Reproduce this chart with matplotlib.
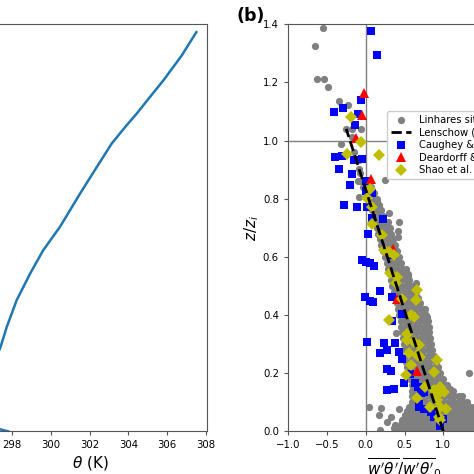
import matplotlib
matplotlib.use("Agg")
import matplotlib.pyplot as plt

# ---- panel (a): potential temperature profile
theta = [296.9, 296.7, 296.6, 296.65, 296.8, 297.05, 297.38, 297.73, 298.24, 298.93,
         299.61, 300.47, 301.51, 302.37, 303.14, 303.91, 304.43, 305.11, 305.80,
         306.75, 307.50]
z_theta = [20, 50, 100, 150, 200, 250, 284, 359, 451, 542,
           623, 703, 818, 909, 990, 1053, 1093, 1150, 1207,
           1293, 1373]
theta_sfc = [297.8, 297.6, 297.38, 297.1, 296.9]
z_sfc = [0, 3, 7, 12, 20]
theta_ticks = [298, 300, 302, 304, 306, 308]

# ---- panel (b): heat flux profiles
gray_out_x = [-0.545, -0.648, -0.626, -0.54, -0.48, -0.347, -0.227, -0.253, -0.18, -0.056,
              -0.313, -0.176, -0.154, -0.09, -0.085, -0.077, -0.1, 0.25, -0.09, 0.15,
              0.30, 0.43, 0.42, 0.42, 0.65, 0.54, 0.79, 0.39, 1.33, 1.09,
              0.045, 0.20, 0.17, 0.32, 0.28, 0.19, 0.43, 0.38, 0.36]
gray_out_z = [1.387, 1.327, 1.211, 1.211, 1.186, 1.136, 1.122, 1.039, 1.039, 1.039,
              0.988, 1.011, 0.962, 0.933, 0.902, 0.89, 0.862, 0.863, 0.805, 0.79,
              0.752, 0.72, 0.688, 0.667, 0.511, 0.533, 0.393, 0.338, 0.202, 0.144,
              0.085, 0.08, 0.056, 0.048, 0.032, 0.006, 0.075, 0.02, 0.01]

gray_band = [
    (0.86, [-0.06, 0.00, 0.04]),
    (0.84, [-0.03, 0.03, 0.07]),
    (0.82, [0.00, 0.06, 0.11]),
    (0.80, [0.03, 0.09, 0.15]),
    (0.78, [0.06, 0.12, 0.17]),
    (0.76, [0.08, 0.14, 0.20]),
    (0.74, [0.10, 0.16, 0.22]),
    (0.72, [0.12, 0.18, 0.24, 0.29]),
    (0.70, [0.14, 0.20, 0.26, 0.31]),
    (0.68, [0.16, 0.22, 0.28, 0.33]),
    (0.66, [0.18, 0.24, 0.30, 0.35]),
    (0.64, [0.20, 0.26, 0.32, 0.38]),
    (0.62, [0.22, 0.28, 0.34, 0.40]),
    (0.60, [0.25, 0.31, 0.37, 0.43]),
    (0.58, [0.27, 0.33, 0.39, 0.45]),
    (0.56, [0.29, 0.35, 0.41, 0.47, 0.52]),
    (0.54, [0.31, 0.37, 0.43, 0.49, 0.55]),
    (0.52, [0.32, 0.38, 0.44, 0.50, 0.56]),
    (0.50, [0.34, 0.40, 0.46, 0.52, 0.58, 0.62]),
    (0.48, [0.36, 0.42, 0.48, 0.54, 0.60, 0.65]),
    (0.46, [0.38, 0.44, 0.50, 0.56, 0.62, 0.68]),
    (0.44, [0.40, 0.46, 0.52, 0.58, 0.64, 0.70]),
    (0.42, [0.42, 0.48, 0.54, 0.60, 0.66, 0.72, 0.76]),
    (0.40, [0.43, 0.49, 0.55, 0.61, 0.67, 0.73, 0.78]),
    (0.38, [0.45, 0.51, 0.57, 0.63, 0.69, 0.75, 0.80]),
    (0.36, [0.46, 0.52, 0.58, 0.64, 0.70, 0.76, 0.81]),
    (0.34, [0.47, 0.53, 0.59, 0.65, 0.71, 0.77, 0.82]),
    (0.32, [0.48, 0.54, 0.60, 0.66, 0.72, 0.78, 0.83]),
    (0.30, [0.49, 0.55, 0.61, 0.67, 0.73, 0.79, 0.84]),
    (0.28, [0.50, 0.56, 0.62, 0.68, 0.74, 0.80, 0.86]),
    (0.26, [0.51, 0.57, 0.63, 0.69, 0.75, 0.81, 0.88]),
    (0.24, [0.52, 0.58, 0.64, 0.70, 0.76, 0.82, 0.90]),
    (0.22, [0.53, 0.59, 0.65, 0.71, 0.77, 0.83, 0.89, 0.93]),
    (0.20, [0.55, 0.61, 0.67, 0.73, 0.79, 0.85, 0.91, 0.96]),
    (0.18, [0.57, 0.63, 0.69, 0.75, 0.81, 0.87, 0.93, 0.99]),
    (0.16, [0.59, 0.65, 0.71, 0.77, 0.83, 0.89, 0.95, 1.01, 1.05]),
    (0.14, [0.60, 0.66, 0.72, 0.78, 0.84, 0.90, 0.96, 1.02, 1.08, 1.12]),
    (0.12, [0.60, 0.66, 0.72, 0.78, 0.84, 0.90, 0.96, 1.02, 1.08, 1.14, 1.20, 1.24]),
    (0.10, [0.59, 0.65, 0.71, 0.77, 0.83, 0.89, 0.95, 1.01, 1.07, 1.13, 1.19, 1.25, 1.31]),
    (0.085, [0.56, 0.62, 0.68, 0.74, 0.80, 0.86, 0.92, 0.98, 1.04, 1.10, 1.16, 1.22, 1.28,
             1.34, 1.40]),
    (0.07, [0.53, 0.59, 0.65, 0.71, 0.77, 0.83, 0.89, 0.95, 1.01, 1.07, 1.13, 1.19, 1.25,
            1.31, 1.37, 1.43]),
    (0.055, [0.50, 0.56, 0.62, 0.68, 0.74, 0.80, 0.86, 0.92, 0.98, 1.04, 1.10, 1.16, 1.22,
             1.28, 1.34, 1.40, 1.46]),
    (0.04, [0.47, 0.53, 0.59, 0.65, 0.71, 0.77, 0.83, 0.89, 0.95, 1.01, 1.07, 1.13, 1.19,
            1.25, 1.31, 1.37, 1.43]),
    (0.025, [0.45, 0.51, 0.57, 0.63, 0.69, 0.75, 0.81, 0.87, 0.93, 0.99, 1.05, 1.11, 1.17,
             1.23, 1.29, 1.35, 1.41, 1.47]),
    (0.01, [0.42, 0.48, 0.54, 0.60, 0.66, 0.72, 0.78, 0.84, 0.90, 0.96, 1.02, 1.08, 1.14,
            1.20, 1.26, 1.32, 1.38, 1.44]),
]

lenschow_x = [1.0, -0.25]
lenschow_z = [0.0, 1.04]

caughey_x = [0.069, 0.142, -0.062, -0.292, -0.412, -0.097, -0.133, -0.390, -0.300, -0.154,
             -0.047, -0.339, -0.176, -0.197, 0.009, 0.000, 0.082, -0.283, -0.112, 0.017,
             0.082, 0.223, 0.030, -0.050, 0.000, 0.051, 0.105, 0.347, 0.189, 0.339,
             -0.004, 0.050, 0.100, 0.468, 0.339, 0.015, 0.232, 0.373, 0.180, 0.275,
             0.427, 0.470, 0.275, 0.324, 0.565, 0.496, 0.640, 0.680, 0.710, 0.751,
             0.280, 0.363, 0.690, 0.690, 0.751, 0.837, 0.876, 1.000, 0.961]
caughey_z = [1.378, 1.296, 1.139, 1.111, 1.100, 1.090, 1.054, 0.945, 0.947, 0.933,
             0.935, 0.901, 0.885, 0.848, 0.862, 0.828, 0.819, 0.778, 0.773, 0.773,
             0.733, 0.729, 0.678, 0.589, 0.584, 0.578, 0.570, 0.605, 0.484, 0.461,
             0.461, 0.449, 0.444, 0.403, 0.381, 0.308, 0.304, 0.303, 0.268, 0.278,
             0.273, 0.250, 0.213, 0.207, 0.196, 0.166, 0.167, 0.152, 0.133, 0.135,
             0.143, 0.145, 0.095, 0.084, 0.078, 0.065, 0.050, 0.044, 0.018]

deardorff_x = [-0.017, -0.046, -0.120, 0.069, 0.352, 0.399, 0.665]
deardorff_z = [1.163, 1.089, 1.008, 0.867, 0.628, 0.454, 0.206]

shao_x = [-0.189, -0.056, -0.240, 0.176, 0.051, 0.017, 0.082, 0.082, 0.210, 0.236,
          0.300, 0.365, 0.309, 0.408, 0.395, 0.665, 0.652, 0.472, 0.297, 0.579,
          0.622, 0.536, 0.532, 0.622, 0.686, 0.554, 0.665, 0.704, 0.918, 0.579,
          0.876, 0.515, 0.768, 0.961, 1.008, 0.918, 0.661, 0.833, 0.961, 0.922,
          1.030, 0.940, 0.961, 0.880]
shao_z = [1.080, 0.996, 0.954, 0.950, 0.832, 0.801, 0.773, 0.713, 0.675, 0.623,
          0.617, 0.605, 0.545, 0.531, 0.511, 0.487, 0.453, 0.456, 0.384, 0.399,
          0.393, 0.336, 0.314, 0.307, 0.296, 0.270, 0.261, 0.257, 0.245, 0.227,
          0.205, 0.195, 0.154, 0.154, 0.135, 0.125, 0.114, 0.085, 0.085, 0.107,
          0.078, 0.050, 0.039, 0.141]

flux_ticks = [-1.0, -0.5, 0.0, 0.5, 1.0, 1.5, 2.0]
zi_ticks = [0.0, 0.2, 0.4, 0.6, 0.8, 1.0, 1.2, 1.4]

gray_x = list(gray_out_x)
gray_z = list(gray_out_z)
for zr, xs in gray_band:
    gray_x += xs
    gray_z += [zr] * len(xs)

fs_tick = 7.3
spine_c = "#555555"

fig = plt.figure(figsize=(4.74, 4.74), dpi=100)

# left panel, mostly outside the crop (its y axis is off the picture)
ax1 = fig.add_axes([-0.0549, 0.0901, 0.4916, 0.8586])
ax1.plot(theta_sfc + theta, z_sfc + z_theta, color="#1f77b4", lw=1.8)
ax1.set_xlim(296.04, 308.05)
ax1.set_ylim(0, 1400)
ax1.set_xticks(theta_ticks)
ax1.set_yticks([])
ax1.set_xlabel(r"$\theta$ (K)", fontsize=11, labelpad=3)
ax1.tick_params(labelsize=fs_tick, color=spine_c, length=3)
for s in ax1.spines.values():
    s.set_color(spine_c)

# right panel (b)
ax2 = fig.add_axes([0.6076, 0.0901, 0.4916, 0.8586])
ax2.axhline(1.0, color="#808080", lw=1.0, zorder=0)
ax2.axvline(0.0, color="#808080", lw=1.0, zorder=0)
ax2.plot(gray_x, gray_z, "o", color="gray", ms=5.2, mew=0, zorder=1,
         label="Linhares site")
ax2.plot(lenschow_x, lenschow_z, "--", color="black", lw=2, zorder=5,
         label="Lenschow (1974)")
ax2.plot(caughey_x, caughey_z, "s", color="blue", ms=5.6, mew=0, zorder=2,
         label="Caughey & Palmer (1979)")
ax2.plot(deardorff_x, deardorff_z, "^", color="red", ms=7, mew=0, zorder=3,
         label="Deardorff & Willis (1985)")
ax2.plot(shao_x, shao_z, "D", color="y", ms=6.3, mew=0, zorder=4,
         label="Shao et al.")
ax2.set_xlim(-1.0, 2.0)
ax2.set_ylim(0.0, 1.4)
ax2.set_xticks(flux_ticks)
ax2.set_yticks(zi_ticks)
ax2.tick_params(labelsize=fs_tick, color=spine_c, length=3)
for s in ax2.spines.values():
    s.set_color(spine_c)
ax2.set_xlabel(r"$\overline{w'\theta'}/\overline{w'\theta'}_0$", fontsize=11, labelpad=4.5)
ax2.set_ylabel(r"$z/z_i$", fontsize=11, labelpad=1)
leg = ax2.legend(loc="upper left", bbox_to_anchor=(0.4247, 0.787), fontsize=7.2,
                 labelspacing=0.25, framealpha=1, edgecolor="#cccccc",
                 borderaxespad=0, handletextpad=0.8)
leg.set_zorder(10)

fig.text(236 / 474, 0.967, "(b)", fontsize=12.5, fontweight="bold",
         ha="left", va="center")

fig.savefig("out.png", dpi=100)
